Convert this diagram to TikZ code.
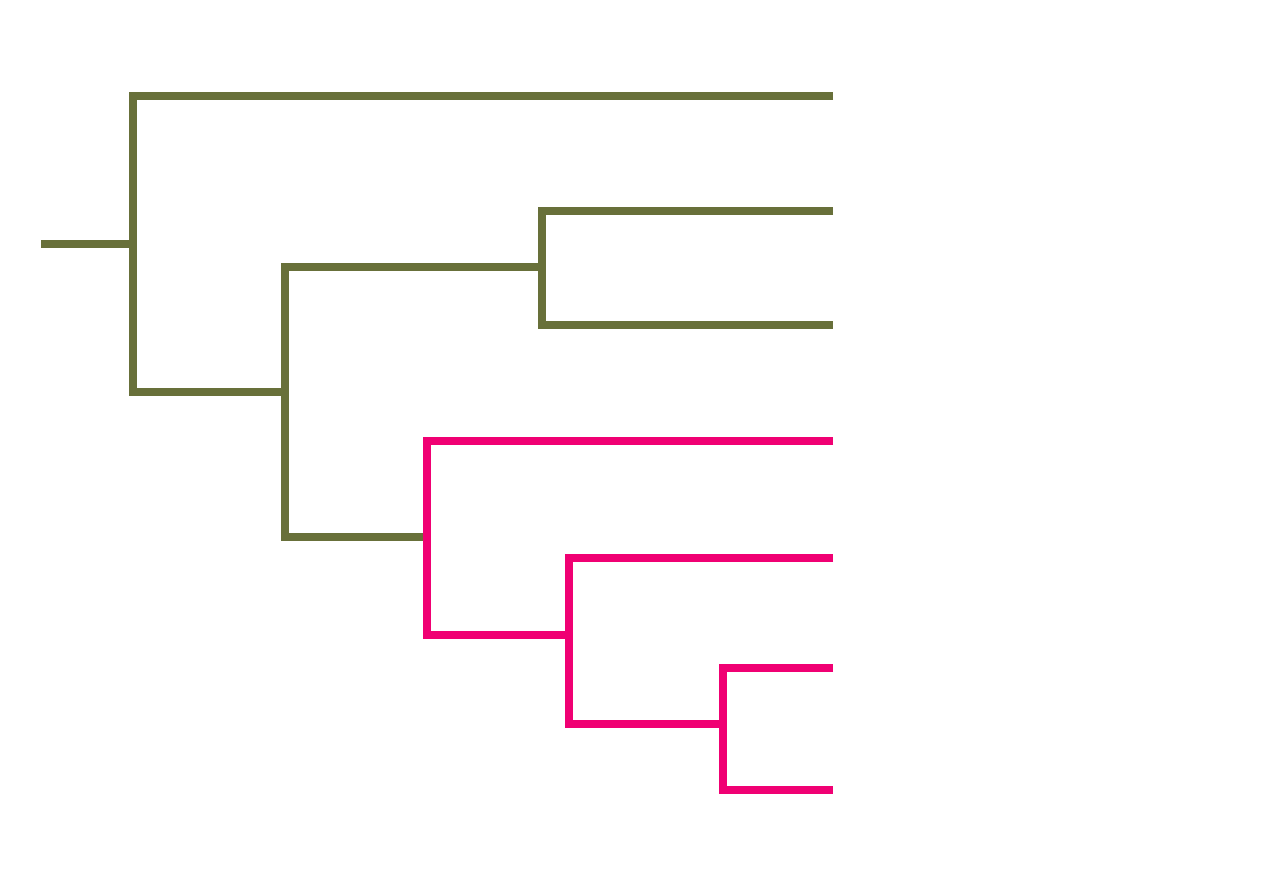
\documentclass[tikz,border=0pt]{standalone}
\definecolor{treeolive}{RGB}{104,112,58}
\definecolor{treepink}{RGB}{240,0,115}
\begin{document}
\begin{tikzpicture}[x=1pt,y=-1pt,
  branch/.style={line width=8.5pt,line join=miter,line cap=butt},
  ol/.style={branch,draw=treeolive},
  pk/.style={branch,draw=treepink}]
\useasboundingbox (0,0) rectangle (1280,880);
% leaves
\coordinate (L1) at (833,96);
\coordinate (L2) at (833,211);
\coordinate (L3) at (833,325);
\coordinate (L4) at (833,441);
\coordinate (L5) at (833,558);
\coordinate (L6) at (833,668);
\coordinate (L7) at (833,790);
% root and internal nodes
\coordinate (r) at (41,244);
\coordinate (a) at (133,244);
\coordinate (b) at (285,392);
\coordinate (c) at (542,267);
\coordinate (d) at (427,537);
\coordinate (e) at (569,635);
\coordinate (f) at (723,724);
% olive part
\draw[ol] (r) -- (a);
\draw[ol] (L1) -| (a) |- (b);
\draw[ol] (c) -| (b) |- (d);
\draw[ol] (L2) -| (c) |- (L3);
% pink part
\draw[pk] (L4) -| (d) |- (e);
\draw[pk] (L5) -| (e) |- (f);
\draw[pk] (L6) -| (f) |- (L7);
\end{tikzpicture}
\end{document}
